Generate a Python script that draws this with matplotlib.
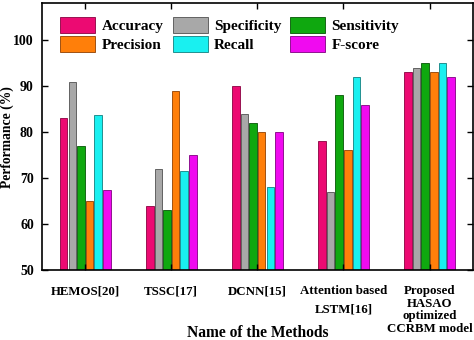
import matplotlib
matplotlib.use('Agg')
import matplotlib.pyplot as plt
import numpy as np

plt.rcParams['font.family'] = ['Liberation Serif', 'DejaVu Serif']
plt.rcParams['font.weight'] = 'bold'

methods = ['HEMOS[20]', 'TSSC[17]', 'DCNN[15]', 'Attention based\nLSTM[16]',
           'Proposed\nHASAO\noptimized\nCCRBM model']
metrics = ['Accuracy', 'Specificity', 'Sensitivity', 'Precision', 'Recall', 'F-score']
accuracy = [83, 64, 90, 78, 93]
specificity = [91, 72, 84, 67, 94]
sensitivity = [77, 63, 82, 88, 95]
precision = [65, 89, 80, 76, 93]
recall = [83.7, 71.5, 68, 92, 95]
fscore = [67.5, 75, 80, 86, 92]
series = [accuracy, specificity, sensitivity, precision, recall, fscore]
colors = ['#EC0A72', '#A8A8A8', '#0FA80F', '#FF7F0A', '#19F0F0', '#F00AF0']
edges = ['#8A0040', '#505050', '#055505', '#904000', '#108080', '#800080']

fig, ax = plt.subplots(figsize=(4.74, 3.40), dpi=100)
x = np.arange(1, len(methods) + 1)
w = 0.1
handles = []
for i, (vals, c, e) in enumerate(zip(series, colors, edges)):
    b = ax.bar(x + (i - 2.5) * w, np.array(vals) - 50, w * 0.88, bottom=50,
               color=c, edgecolor=e, linewidth=0.6, label=metrics[i])
    handles.append(b)

ax.set_xlim(0.5, 5.5)
ax.set_ylim(50, 108)
ax.set_yticks([50, 60, 70, 80, 90, 100])
ax.set_xticks(x)
ax.set_xticklabels(methods, fontsize=9.3, fontweight='bold', linespacing=1.05)
ax.get_xticklabels()[3].set_linespacing(1.65)
ax.tick_params(axis='y', labelsize=10, pad=6)
ax.tick_params(axis='x', pad=11)
ax.tick_params(direction='in', top=True, right=True, length=4, width=1)
for s in ax.spines.values():
    s.set_linewidth(1.2)
ax.set_ylabel('Performance (%)', fontsize=9.8, fontweight='bold', va='center')
ax.yaxis.set_label_coords(-0.08, 0.5)
ax.set_xlabel('Name of the Methods', fontsize=11.2, fontweight='bold', va='center')
ax.xaxis.set_label_coords(0.5, -0.238)

order = [0, 3, 1, 4, 2, 5]
ax.legend([handles[k] for k in order], [metrics[k] for k in order], ncol=3,
          loc='upper left', bbox_to_anchor=(0.01, 1.0), frameon=False,
          prop={'family': 'Liberation Serif', 'weight': 'bold', 'size': 11},
          handlelength=2.3, handleheight=1.2, columnspacing=0.6,
          handletextpad=0.4, labelspacing=0.2, borderaxespad=0.5)

plt.subplots_adjust(left=0.089, right=0.997, top=0.99, bottom=0.206)
plt.savefig('out.png', dpi=100)
plt.close(fig)
